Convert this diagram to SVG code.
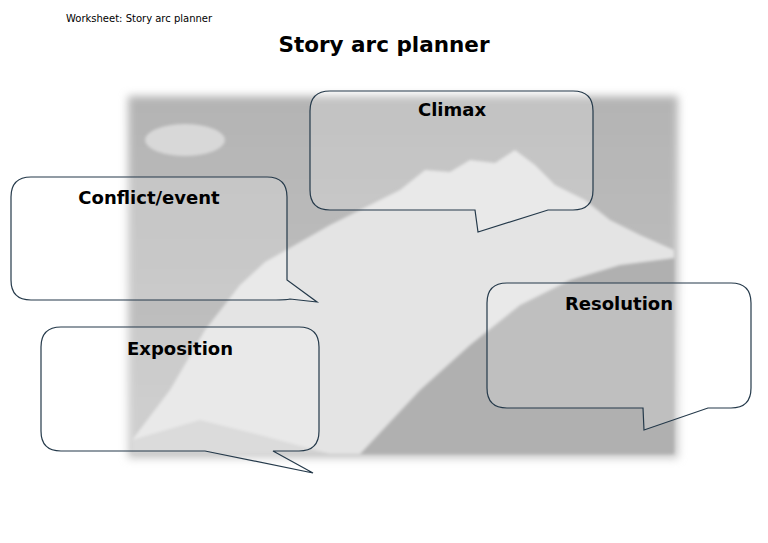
<svg xmlns="http://www.w3.org/2000/svg" width="768" height="543" viewBox="0 0 768 543">
<style>
.t{font-family:"DejaVu Sans",sans-serif;font-weight:bold;fill:#000}
.lbl{font-size:18px}
.co{fill:#fff;fill-opacity:0.2;stroke:#24394a;stroke-width:1.2}
</style>
<defs>
<filter id="b" x="-5%" y="-5%" width="110%" height="110%"><feGaussianBlur stdDeviation="4"/></filter>
<filter id="s" x="-5%" y="-5%" width="110%" height="110%"><feGaussianBlur stdDeviation="1.5"/></filter>
<linearGradient id="sky" x1="0" y1="0" x2="0" y2="1"><stop offset="0" stop-color="#b4b4b4"/><stop offset="1" stop-color="#c4c4c4"/></linearGradient>
</defs>
<rect width="768" height="543" fill="#fff"/>
<g id="photo">
<rect x="128" y="96" width="550" height="362" fill="url(#sky)" filter="url(#b)"/>
<g filter="url(#s)">
<ellipse cx="185" cy="140" rx="40" ry="16" fill="#d8d8d8"/>
<polygon points="132,440 170,390 205,330 240,285 265,262 295,245 330,225 370,205 400,190 425,170 450,172 470,160 495,163 515,150 535,165 555,185 585,200 610,220 640,235 674,250 674,454 132,454" fill="#e4e4e4"/>
<polygon points="360,454 420,390 470,345 520,305 570,280 620,265 674,258 674,454" fill="#b0b0b0"/>
<polygon points="132,454 132,440 200,420 260,435 330,454" fill="#d2d2d2"/>
</g>
</g>
<text x="66" y="22" font-size="10" style="font-family:'DejaVu Sans',sans-serif;fill:#000">Worksheet: Story arc planner</text>
<text class="t" x="384" y="52" font-size="21.5" text-anchor="middle">Story arc planner</text>
<g id="climax">
<path class="co" d="M330,91 H573 Q593,91 593,111 V190 Q593,210 573,210 H548 L478,232 L475,210 H330 Q310,210 310,190 V111 Q310,91 330,91 Z"/>
<text class="t lbl" x="452" y="116" text-anchor="middle">Climax</text>
</g>
<g id="conflict">
<path class="co" d="M31,177 H267 Q287,177 287,197 V280 L317,302 L290,299 Q287,300 267,300 H31 Q11,300 11,280 V197 Q11,177 31,177 Z"/>
<text class="t lbl" x="149" y="204" text-anchor="middle">Conflict/event</text>
</g>
<g id="exposition">
<path class="co" d="M61,327 H299 Q319,327 319,347 V431 Q319,451 299,451 H273 L313,473 L205,451 H61 Q41,451 41,431 V347 Q41,327 61,327 Z"/>
<text class="t lbl" x="180" y="355" text-anchor="middle">Exposition</text>
</g>
<g id="resolution">
<path class="co" d="M507,283 H731 Q751,283 751,303 V388 Q751,408 731,408 H708 L644,430 L643,408 H507 Q487,408 487,388 V303 Q487,283 507,283 Z"/>
<text class="t lbl" x="619" y="310" text-anchor="middle">Resolution</text>
</g>
<g id="connectors"/>
</svg>
